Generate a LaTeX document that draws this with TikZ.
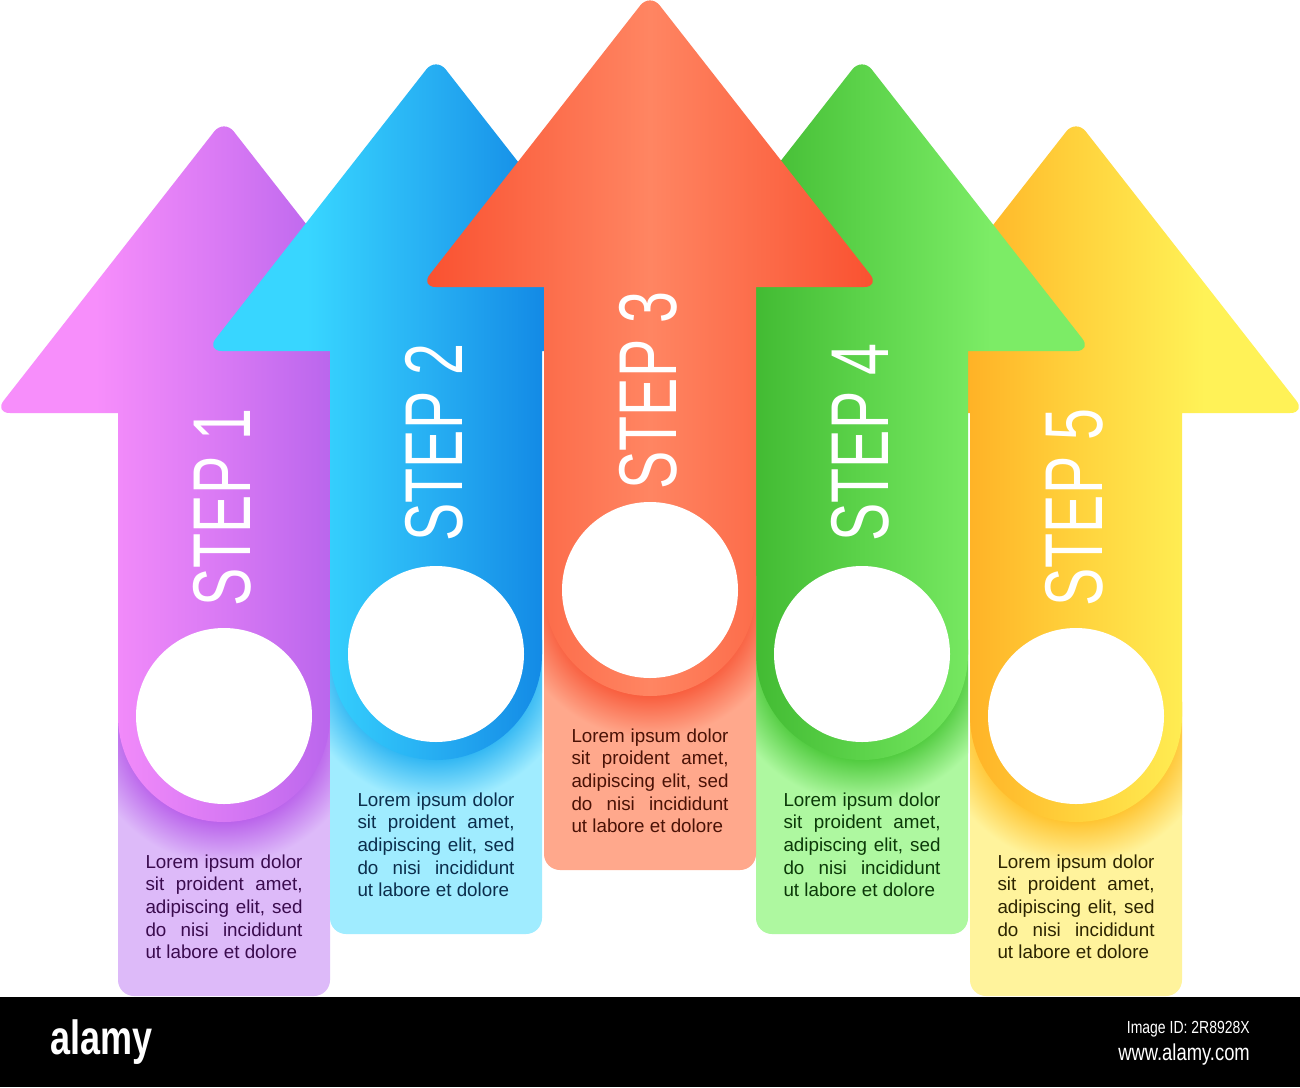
\documentclass[tikz,border=0pt]{standalone}
\usepackage{fontspec}
\setmainfont{Liberation Sans}
\newfontfamily\stepfont[FakeStretch=0.7]{Liberation Sans}
\newfontfamily\barfont[FakeStretch=0.8]{Liberation Sans}
\newfontfamily\logofont[FakeStretch=0.75]{Liberation Sans}
\usetikzlibrary{positioning}

% culorile săgeților
\definecolor{left1}{HTML}{F78EFB}
\definecolor{mid1}{HTML}{D879F4}
\definecolor{right1}{HTML}{B462EB}
\definecolor{light1}{HTML}{DDBAF9}
\definecolor{dark1}{HTML}{B85EEA}
\definecolor{ink1}{HTML}{3A0B4E}

\definecolor{left2}{HTML}{38D6FF}
\definecolor{mid2}{HTML}{26ADF2}
\definecolor{right2}{HTML}{0F83E3}
\definecolor{light2}{HTML}{A0ECFF}
\definecolor{dark2}{HTML}{2CB4F2}
\definecolor{ink2}{HTML}{0B2E4C}

\definecolor{left3}{HTML}{F9502F}
\definecolor{mid3}{HTML}{FF8562}
\definecolor{right3}{HTML}{F9502F}
\definecolor{light3}{HTML}{FFA88C}
\definecolor{dark3}{HTML}{F85A3A}
\definecolor{ink3}{HTML}{4A1206}

\definecolor{left4}{HTML}{3DB62E}
\definecolor{mid4}{HTML}{5CD34A}
\definecolor{right4}{HTML}{7CEC66}
\definecolor{light4}{HTML}{AEF8A0}
\definecolor{dark4}{HTML}{4CC93A}
\definecolor{ink4}{HTML}{0B3908}

\definecolor{left5}{HTML}{FFAC22}
\definecolor{mid5}{HTML}{FFD23C}
\definecolor{right5}{HTML}{FFF257}
\definecolor{light5}{HTML}{FFF39C}
\definecolor{dark5}{HTML}{FFC22C}
\definecolor{ink5}{HTML}{2C2400}

% degradeuri
\pgfdeclarehorizontalshading{arrow1}{100bp}{color(0bp)=(left1); color(36bp)=(left1); color(50bp)=(mid1); color(64bp)=(right1); color(100bp)=(right1)}
\pgfdeclarehorizontalshading{arrow2}{100bp}{color(0bp)=(left2); color(36bp)=(left2); color(50bp)=(mid2); color(64bp)=(right2); color(100bp)=(right2)}
\pgfdeclarehorizontalshading{arrow3}{100bp}{color(0bp)=(left3); color(25bp)=(left3); color(50bp)=(mid3); color(75bp)=(right3); color(100bp)=(right3)}
\pgfdeclarehorizontalshading{arrow4}{100bp}{color(0bp)=(left4); color(36bp)=(left4); color(50bp)=(mid4); color(64bp)=(right4); color(100bp)=(right4)}
\pgfdeclarehorizontalshading{arrow5}{100bp}{color(0bp)=(left5); color(36bp)=(left5); color(50bp)=(mid5); color(64bp)=(right5); color(100bp)=(right5)}

\pgfdeclareradialshading{shadow1}{\pgfpoint{0bp}{0bp}}{color(0bp)=(dark1); color(17bp)=(dark1); color(25bp)=(light1); color(50bp)=(light1)}
\pgfdeclareradialshading{shadow2}{\pgfpoint{0bp}{0bp}}{color(0bp)=(dark2); color(17bp)=(dark2); color(25bp)=(light2); color(50bp)=(light2)}
\pgfdeclareradialshading{shadow3}{\pgfpoint{0bp}{0bp}}{color(0bp)=(dark3); color(17bp)=(dark3); color(25bp)=(light3); color(50bp)=(light3)}
\pgfdeclareradialshading{shadow4}{\pgfpoint{0bp}{0bp}}{color(0bp)=(dark4); color(17bp)=(dark4); color(25bp)=(light4); color(50bp)=(light4)}
\pgfdeclareradialshading{shadow5}{\pgfpoint{0bp}{0bp}}{color(0bp)=(dark5); color(17bp)=(dark5); color(25bp)=(light5); color(50bp)=(light5)}

\newcommand{\loremtext}{Lorem ipsum dolor\linebreak sit proident amet,\linebreak adipiscing elit, sed\linebreak do nisi incididunt\linebreak ut labore et dolore}

\begin{document}
\begin{tikzpicture}[x=1pt,y=1pt,
  hole/.style={circle,fill=white,minimum size=176pt,inner sep=0pt},
  steplabel/.style={font=\stepfont\fontsize{82}{82}\selectfont,text=white,rotate=90,anchor=base west,inner sep=0pt},
  lorem/.style={font=\fontsize{18.8}{22.7}\selectfont,text width=157pt,align=justify,inner sep=0pt},
  bartext/.style={text=white,anchor=base east,inner sep=0pt}]
  \path[use as bounding box,fill=white] (0,0) rectangle (1300,-1087);

  % bara neagră
  \fill[black] (0,-997) rectangle (1300,-1087);
  \node[font=\logofont\bfseries\fontsize{48}{48}\selectfont,text=white,anchor=base west,inner sep=0pt] (logo) at (50,-1054) {alamy};
  \node[bartext,font=\barfont\fontsize{17.5}{17.5}\selectfont] (imgid) at (1250,-1033) {Image ID: 2R8928X};
  \node[bartext,font=\barfont\fontsize{23}{23}\selectfont] (site) at (1250,-1060) {www.alamy.com};

  % săgețile, din spate în față
  \foreach \n/\cx/\dy/\sy in {1/224/126/21, 5/1076/126/21, 2/436/64/24, 4/862/64/24, 3/650/0/12}{
    \coordinate (o\n) at (\cx,-590-\dy);
    % cutia deschisă
    \fill[light\n,rounded corners=16pt] (\cx-106,-560-\dy) rectangle (\cx+106,-870-\dy);
    % umbra
    \begin{scope}
      \clip[rounded corners=16pt] (\cx-106,-560-\dy) rectangle (\cx+106,-870-\dy);
      \shade[shading=shadow\n] (\cx,-598-\dy) circle[radius=140];
    \end{scope}
    % săgeata
    \shade[shading=arrow\n] (\cx,-287-\dy) [rounded corners=16pt] -- (\cx+230,-287-\dy) -- (\cx,7-\dy) -- (\cx-230,-287-\dy) -- cycle
      [sharp corners] (\cx-106,-280-\dy) -- (\cx-106,-590-\dy) arc[start angle=180,end angle=360,radius=106] -- (\cx+106,-280-\dy) -- cycle;
    % cercul și textele
    \node[hole] (c\n) at (o\n) {};
    \node[steplabel] (s\n) at ([xshift=26pt,yshift=\sy pt]c\n.north) {STEP \n};
    \node[lorem,text=ink\n,below=50pt of c\n] (t\n) {\loremtext};
  }
\end{tikzpicture}
\end{document}
